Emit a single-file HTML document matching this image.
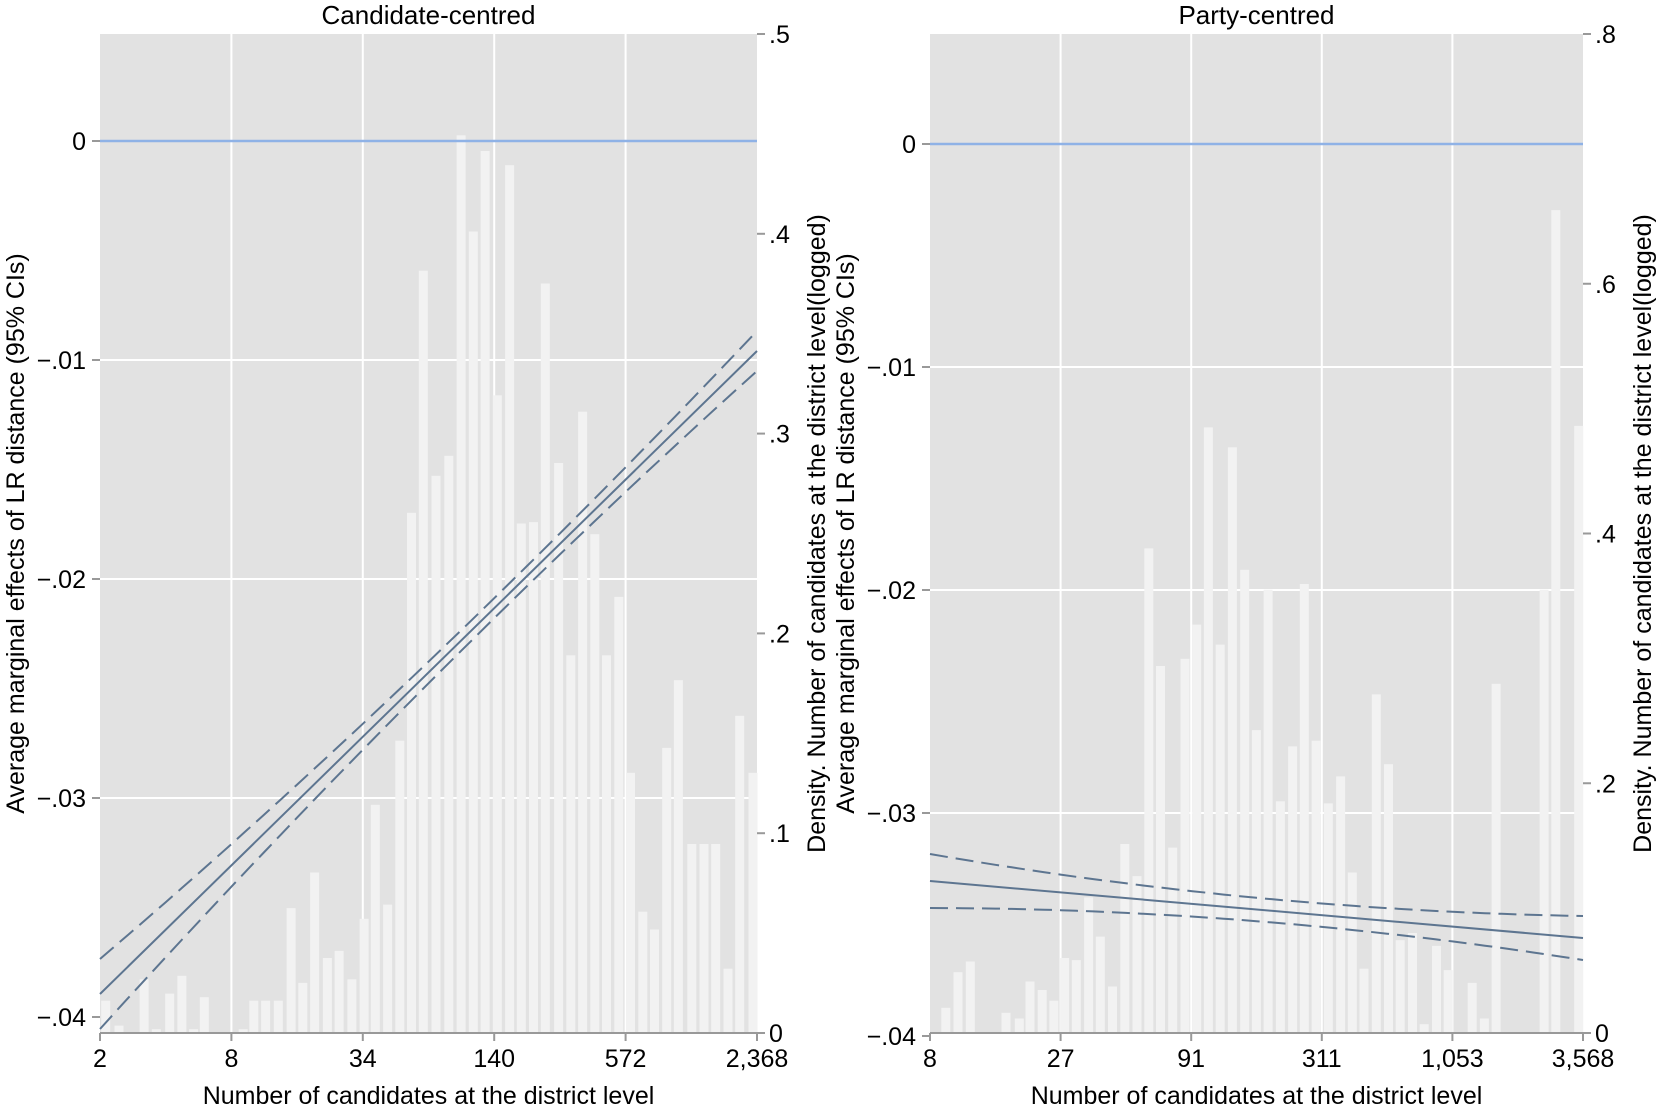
<!DOCTYPE html><html><head><meta charset="utf-8"><style>
html,body{margin:0;padding:0;background:#fff;width:1662px;height:1111px;overflow:hidden}
svg text{font-family:"Liberation Sans",sans-serif;fill:#000}
</style></head><body>
<svg id="s" width="1662" height="1111" xmlns="http://www.w3.org/2000/svg"></svg>
<script>
const S=document.getElementById('s');let h='';
const fx=1.877, fy=1.404;
function quad(p0,p1,p2){
 return x=>{const [x0,y0]=p0,[x1,y1]=p1,[x2,y2]=p2;
 return y0*(x-x1)*(x-x2)/((x0-x1)*(x0-x2))+y1*(x-x0)*(x-x2)/((x1-x0)*(x1-x2))+y2*(x-x0)*(x-x1)/((x2-x0)*(x2-x1));};}
function curve(L,R,f){let a=[];for(let i=0;i<=40;i++){const x=L+(R-L)*i/40;a.push([x.toFixed(1),f(x).toFixed(1)]);}return a;}
function panel(o){
 const L=o.L,R=o.R,T=34,B=1033;
 h+=`<rect x="${L}" y="${T}" width="${R-L}" height="${B-T}" fill="#e2e2e2"/>`;
 o.xt.forEach((t,i)=>{const x=L+(R-L)*i/(o.xt.length-1); if(i>0&&i<o.xt.length-1) h+=`<line x1="${x}" y1="${T}" x2="${x}" y2="${B}" stroke="#fff" stroke-width="2"/>`;});
 o.yt.forEach((t,i)=>{const y=o.y0+o.ys*i; if(i>0&&i<4) h+=`<line x1="${L}" y1="${y}" x2="${R}" y2="${y}" stroke="#fff" stroke-width="2"/>`;});
 o.bars.forEach(b=>{const x=o.ox+b[0]/fx, y=b[1]/fy; h+=`<rect x="${x.toFixed(1)}" y="${y.toFixed(1)}" width="${o.bw}" height="${(B-y).toFixed(1)}" fill="#f2f2f2"/>`;});
 h+=`<line x1="${L}" y1="${o.y0}" x2="${R}" y2="${o.y0}" stroke="#8fb2e6" stroke-width="2.5"/>`;
 const pts=(a)=>a.map(p=>p.join(',')).join(' ');
 h+=`<polyline points="${pts(o.up)}" fill="none" stroke="#5d7590" stroke-width="2" stroke-dasharray="18,8"/>`;
 h+=`<polyline points="${pts(o.lo)}" fill="none" stroke="#5d7590" stroke-width="2" stroke-dasharray="18,8"/>`;
 h+=`<polyline points="${pts(o.mid)}" fill="none" stroke="#5d7590" stroke-width="2"/>`;
 h+=`<line x1="${L}" y1="${B}" x2="${R}" y2="${B}" stroke="#999" stroke-width="2"/>`;
 o.xt.forEach((t,i)=>{const x=L+(R-L)*i/(o.xt.length-1); h+=`<line x1="${x}" y1="${B}" x2="${x}" y2="${B+8}" stroke="#999" stroke-width="2"/><text x="${x}" y="${B+34}" font-size="25" text-anchor="middle">${t}</text>`;});
 o.yt.forEach((t,i)=>{const y=o.y0+o.ys*i; h+=`<line x1="${L-8}" y1="${y}" x2="${L}" y2="${y}" stroke="#999" stroke-width="2"/><text x="${L-14}" y="${y+9}" font-size="25" text-anchor="end">${t}</text>`;});
 o.rt.forEach((t,i)=>{const y=B-(B-T)*i/(o.rt.length-1); h+=`<line x1="${R}" y1="${y}" x2="${R+8}" y2="${y}" stroke="#999" stroke-width="2"/><text x="${R+12}" y="${y+9}" font-size="25">${t}</text>`;});
 h+=`<text x="${(L+R)/2}" y="24" font-size="26" text-anchor="middle">${o.title}</text>`;
 h+=`<text x="${(L+R)/2}" y="1104" font-size="25" text-anchor="middle">Number of candidates at the district level</text>`;
 h+=`<text transform="translate(${o.ylx},${(T+B)/2}) rotate(-90)" font-size="25" text-anchor="middle">Average marginal effects of LR distance (95% CIs)</text>`;
 h+=`<text transform="translate(${R+68},${(T+B)/2}) rotate(-90)" font-size="25" text-anchor="middle">Density. Number of candidates at the district level(logged)</text>`;
}
const b1=[[190,1405],[215,1440],[262,1375],[285,1445],[310,1395],[333,1370],[355,1445],[375,1400],[448,1445],[468,1405],[490,1405],[514,1405],[538,1275],[560,1380],[582,1225],[606,1345],[628,1335],[652,1375],[675,1290],[696,1130],[719,1270],[742,1040],[764,720],[786,380],[810,668],[834,640],[857,190],[880,325],[902,212],[925,555],[948,232],[970,735],[993,733],[1015,398],[1040,650],[1063,920],[1085,578],[1108,750],[1130,920],[1153,838],[1175,1085],[1198,1280],[1220,1305],[1243,1050],[1265,955],[1290,1185],[1313,1185],[1335,1185],[1358,1360],[1380,1005],[1405,1085]];
{const L=100,R=757;
 const m=x=>994+(351-994)*(x-L)/(R-L);
 const hw=quad([L,35],[496,10],[R,20]);
 panel({L,R,ox:0,bw:9,y0:141,ys:219,title:'Candidate-centred',ylx:24,
 xt:['2','8','34','140','572','2,368'],yt:['0','\u2212.01','\u2212.02','\u2212.03','\u2212.04'],rt:['0','.1','.2','.3','.4','.5'],
 bars:b1,mid:[[L,994],[R,351]],up:curve(L,R,x=>m(x)-hw(x)),lo:curve(L,R,x=>m(x)+hw(x))});}
const b2=[[182,1450],[207,1415],[230,1365],[253,1350],[320,1422],[345,1430],[365,1378],[388,1390],[410,1405],[430,1345],[452,1348],[475,1260],[497,1315],[520,1385],[543,1185],[566,1230],[588,770],[610,935],[633,1190],[656,925],[678,877],[700,600],[722,905],[745,628],[768,800],[790,1025],[812,828],[835,1125],[858,1048],[880,820],[902,1040],[925,1128],[948,1090],[970,1225],[992,1360],[1015,975],[1038,1073],[1060,1320],[1083,1310],[1105,1438],[1128,1328],[1150,1362],[1195,1380],[1218,1430],[1240,960],[1330,828],[1352,295],[1395,598]];
{const L=930,R=1583;
 const m=x=>881+(938-881)*(x-L)/(R-L);
 const hw=quad([L,27],[1230,12],[R,22]);
 panel({L,R,ox:831,bw:9,y0:144,ys:223,title:'Party-centred',ylx:854,
 xt:['8','27','91','311','1,053','3,568'],yt:['0','\u2212.01','\u2212.02','\u2212.03','\u2212.04'],rt:['0','.2','.4','.6','.8'],
 bars:b2,mid:[[L,881],[R,938]],up:curve(L,R,x=>m(x)-hw(x)),lo:curve(L,R,x=>m(x)+hw(x))});}
S.innerHTML=h;
</script>
</body></html>
